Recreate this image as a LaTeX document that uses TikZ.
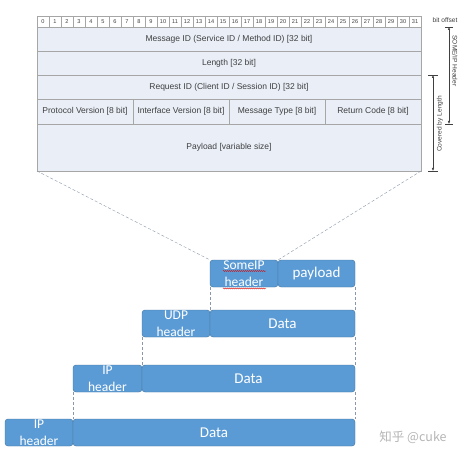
\documentclass[tikz,border=0pt]{standalone}
\usepackage{fontspec}
\usetikzlibrary{arrows.meta,decorations.pathmorphing}
\newfontfamily\tblfont{Liberation Sans}
\newfontfamily\pktfont{Carlito}
\newfontfamily\cjkfont{Noto Sans CJK SC}
\definecolor{grid}{HTML}{A6A6A6}
\definecolor{cellbg}{HTML}{E9EEF7}
\definecolor{txt}{HTML}{404040}
\definecolor{pkt}{HTML}{5B9BD5}
\definecolor{pktedge}{HTML}{41719C}
\definecolor{guidecol}{HTML}{8A97A8}
\definecolor{wmcol}{HTML}{B5B5B5}
\tikzset{
  bitcell/.style={draw=grid,fill=white,minimum width=12pt,minimum height=11pt,inner sep=0pt,outer sep=0pt,anchor=north west,text=txt,font=\tblfont\fontsize{5.6}{6}\selectfont},
  row/.style={draw=grid,fill=cellbg,minimum width=384pt,inner sep=0pt,outer sep=0pt,anchor=north west,text=txt,font=\tblfont\fontsize{8.5}{10}\selectfont},
  field/.style={row,minimum width=96pt,minimum height=25pt},
  side/.style={text=txt,inner sep=0pt,font=\tblfont\fontsize{6.6}{7}\selectfont},
  dimarr/.style={{Latex[length=3pt,width=2.4pt]}-{Latex[length=3pt,width=2.4pt]},draw=black!75,thin},
  tick/.style={draw=black!75,thin},
  pktbox/.style={draw=pktedge,fill=pkt,rounded corners=3pt,minimum height=27pt,inner sep=0pt,outer sep=0pt,anchor=north west,text=white,align=center,font=\pktfont\fontsize{15}{17}\selectfont},
  hdrbox/.style={pktbox,font=\pktfont\fontsize{13.5}{17}\selectfont},
  guide/.style={draw=guidecol,dash pattern=on 3pt off 2pt,thin},
  squig/.style={draw=red!85!black,line width=0.4pt,decorate,decoration={snake,amplitude=0.5pt,segment length=2pt}},
  wmark/.style={text=wmcol,inner sep=0pt,font=\cjkfont\fontsize{12.5}{14}\selectfont},
}
\begin{document}
\begin{tikzpicture}[x=1pt,y=-1pt]
\useasboundingbox (0,0) rectangle (463,457);
% bit offsets
\foreach \i in {0,...,31} \node[bitcell] (b\i) at ({37+12*\i},16) {\i};
% SOME/IP header layout
\node[row,minimum height=24pt] (msgid) at (37,27) {Message ID (Service ID / Method ID) [32 bit]};
\node[row,minimum height=24pt] (len) at (msgid.south west) {Length [32 bit]};
\node[row,minimum height=24pt] (reqid) at (len.south west) {Request ID (Client ID / Session ID) [32 bit]};
\node[field] (proto) at (reqid.south west) {Protocol Version [8 bit]};
\node[field] (iface) at (proto.north east) {Interface Version [8 bit]};
\node[field] (mtype) at (iface.north east) {Message Type [8 bit]};
\node[field] (rcode) at (mtype.north east) {Return Code [8 bit]};
\node[row,minimum height=47pt] (pl) at (proto.south west) {Payload [variable size]};
% side annotations
\node[side] (boff) at (445,20) {bit offset};
\coordinate (hdrtop) at (449,27);
\coordinate (hdrbot) at (449,124);
\draw[dimarr] (hdrtop) -- (hdrbot);
\draw[tick] ([xshift=-4pt]hdrtop) -- ([xshift=4pt]hdrtop);
\draw[tick] ([xshift=-4pt]hdrbot) -- ([xshift=4pt]hdrbot);
\node[side,rotate=-90] (hdrlbl) at (455,61) {SOME/IP Header};
\coordinate (lentop) at (433,75);
\coordinate (lenbot) at (433,171);
\draw[dimarr] (lentop) -- (lenbot);
\draw[tick] ([xshift=-5pt]lentop) -- ([xshift=5pt]lentop);
\draw[tick] ([xshift=-5pt]lenbot) -- ([xshift=5pt]lenbot);
\node[side,rotate=90] (lenlbl) at (440,124) {Covered by Length};
% encapsulation
\node[hdrbox,minimum width=68pt] (someip) at (210,260) {SomeIP\\header};
\node[pktbox,minimum width=77pt] (somepl) at (someip.north east) {payload};
\node[hdrbox,minimum width=68pt] (udp) at (142,310) {UDP\\header};
\node[pktbox,minimum width=145pt] (udpdata) at (udp.north east) {Data};
\node[hdrbox,minimum width=69pt] (ip) at (73,365) {IP\\header};
\node[pktbox,minimum width=213pt] (ipdata) at (ip.north east) {Data};
\node[hdrbox,minimum width=68pt] (eth) at (5,419) {IP\\header};
\node[pktbox,minimum width=282pt] (ethdata) at (eth.north east) {Data};
\draw[squig] ([xshift=-21pt,yshift=2.5pt]someip.center) -- ([xshift=22pt,yshift=2.5pt]someip.center);
\draw[squig] ([xshift=-21pt,yshift=-15pt]someip.center) -- ([xshift=22pt,yshift=-15pt]someip.center);
% guide lines
\draw[guide] (pl.south west) -- (someip.north west);
\draw[guide] (pl.south east) -- (someip.north east);
\draw[guide] (someip.south west) -- (udpdata.north west);
\draw[guide] (udp.south west) -- (ipdata.north west);
\draw[guide] (ip.south west) -- (ethdata.north west);
\draw[guide] (somepl.south east) -- (udpdata.north east);
\draw[guide] (udpdata.south east) -- (ipdata.north east);
\draw[guide] (ipdata.south east) -- (ethdata.north east);
\node[wmark] (wm) at (413,437) {知乎 @cuke};
\end{tikzpicture}
\end{document}
